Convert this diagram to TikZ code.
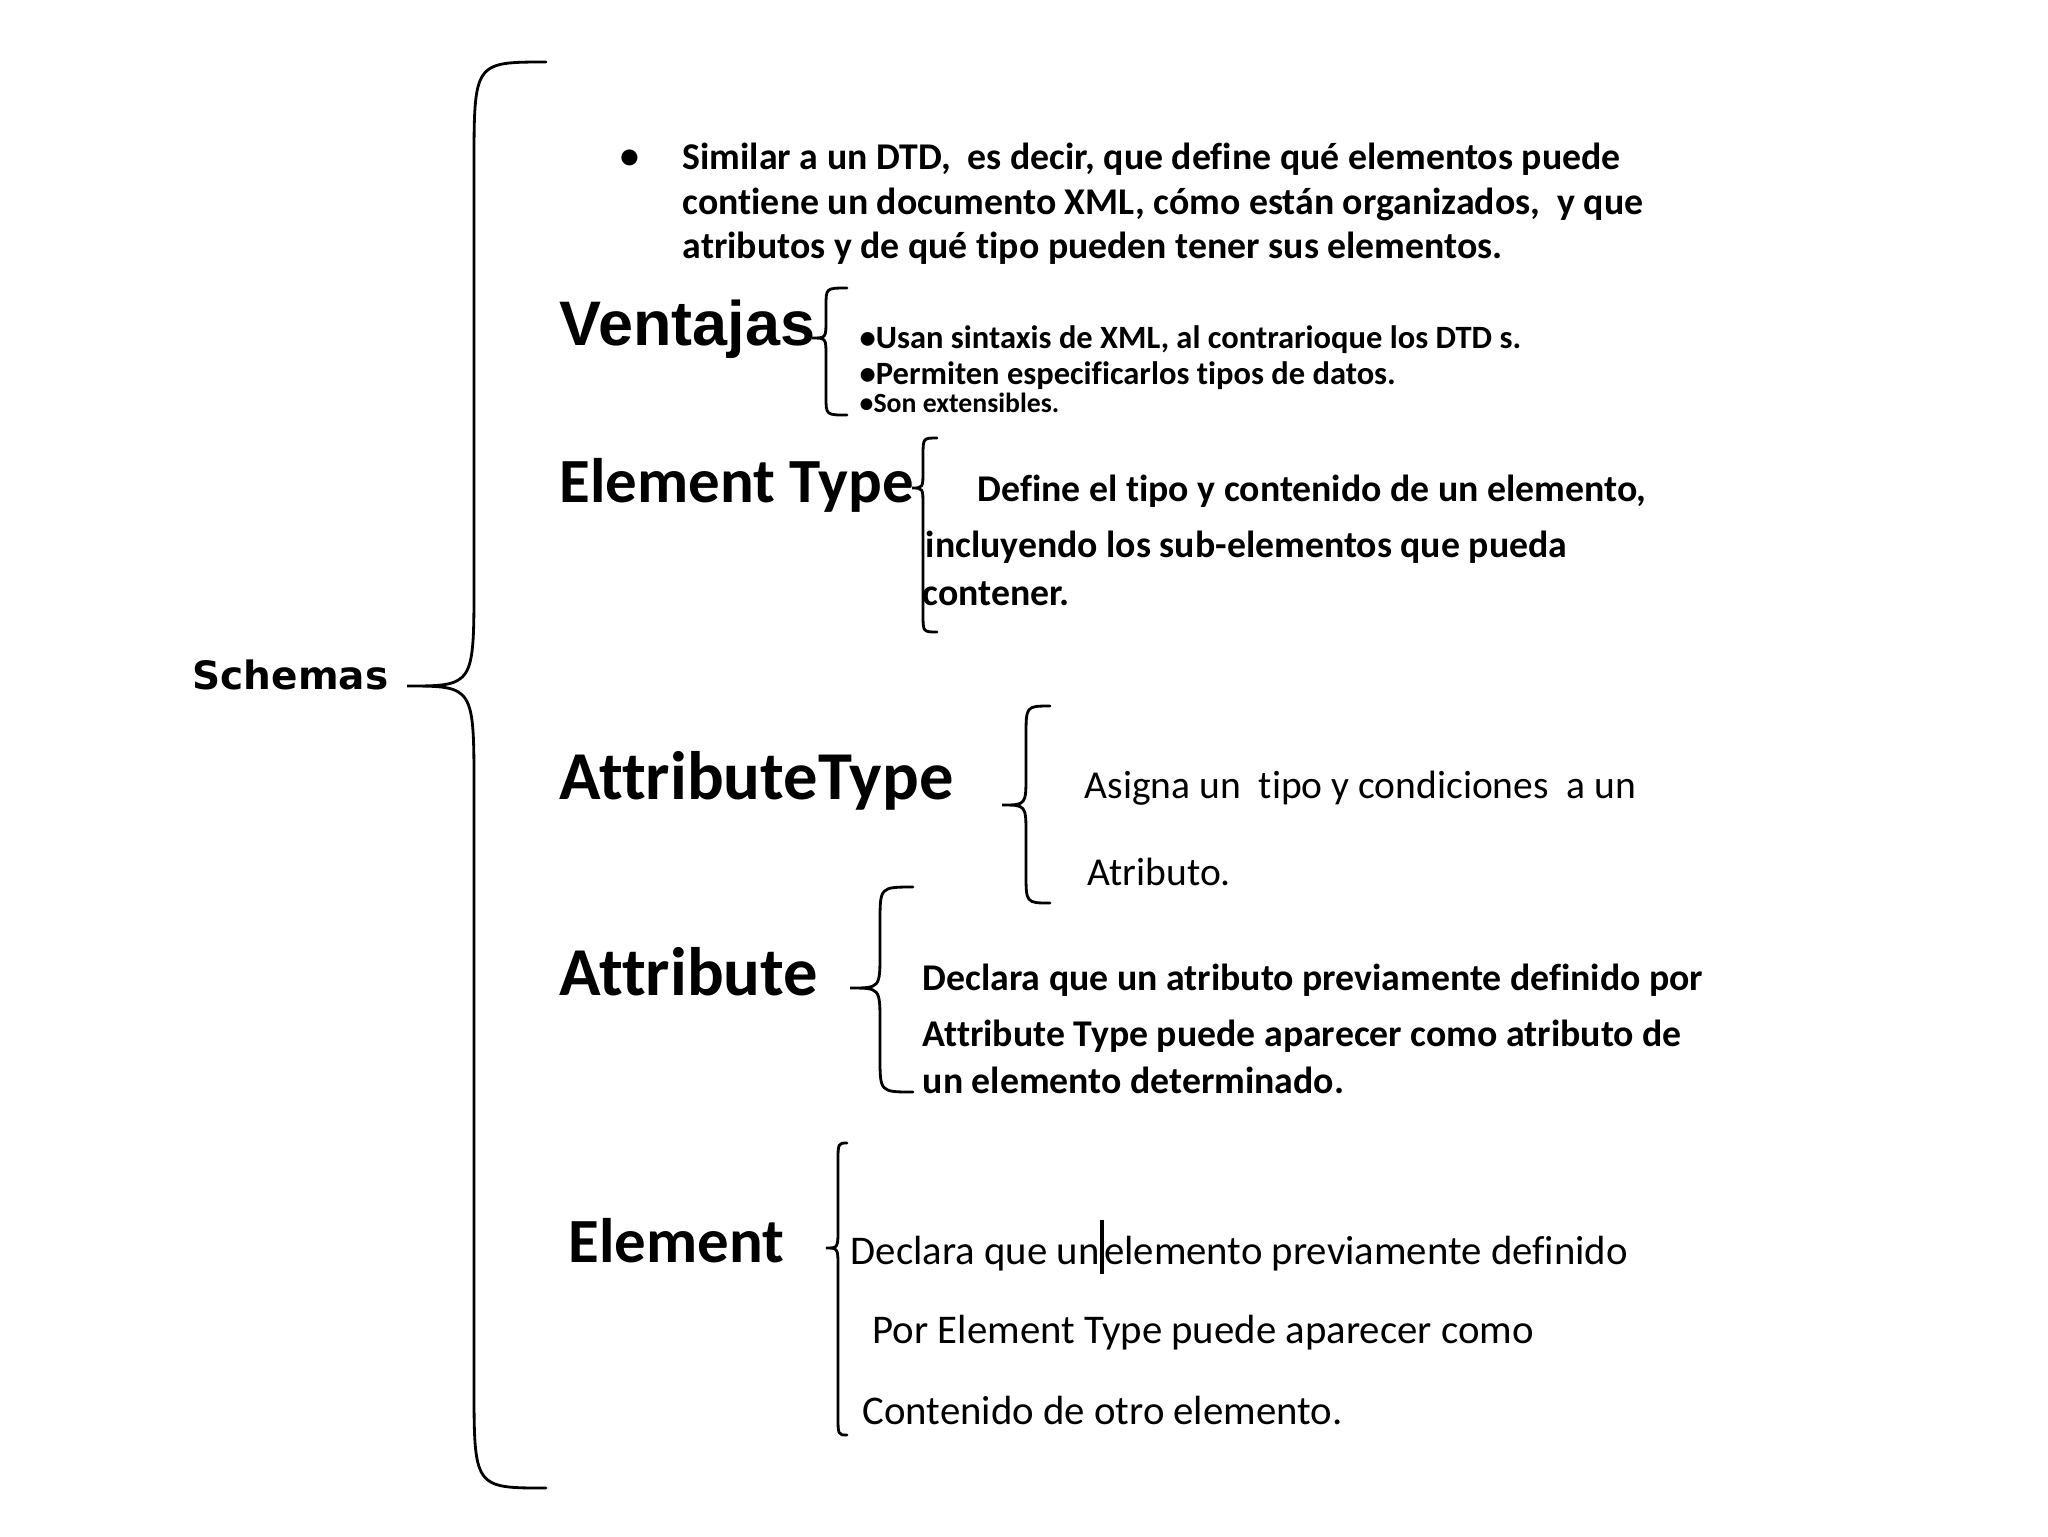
\documentclass[tikz,border=0pt]{standalone}
\usepackage{fontspec}
\setmainfont{Carlito}[Ligatures=CommonOff]
\newfontfamily\arialfont{Liberation Sans}
\newfontfamily\verdanafont{DejaVu Sans}
% curly bracket: end x, line x, tip x, top y, tip y, bottom y, curl
\newcommand{\bracket}[7] {
    \draw[curl] (#1,#4) .. controls (#2,#4) .. (#2,{#4+#7})
        -- (#2,{#5-#7}) .. controls (#2,#5) .. (#3,#5)
        .. controls (#2,#5) .. (#2,{#5+#7})
        -- (#2,{#6-#7}) .. controls (#2,#6) .. (#1,#6);
}
\tikzset{
    curl/.style={line width=0.8pt, line cap=round},
    head/.style={anchor=west, inner sep=0pt, font=\bfseries\fontsize{17.9}{20}\selectfont},
    bighead/.style={head, font=\bfseries\fontsize{19.5}{22}\selectfont},
    txt/.style={anchor=west, inner sep=0pt, font=\bfseries\fontsize{10.75}{12}\selectfont},
    lite/.style={anchor=west, inner sep=0pt, font=\fontsize{11.25}{13}\selectfont},
    small/.style={anchor=west, inner sep=0pt, font=\bfseries\fontsize{9.25}{10}\selectfont}
}

\begin{document}
\begin{tikzpicture}[x=0.1mm, y=-0.1mm]
    \useasboundingbox (0,0) rectangle (2048,1536);
    \node[anchor=west, inner sep=0pt, font=\verdanafont\bfseries\fontsize{11.1}{13}\selectfont] (schemas) at (192,675) {Schemas};
    \bracket{546}{474}{407}{62}{686}{1488}{105}

    % intro
    \node[txt] (dot) at (620,159) {•};
    \node[txt, align=left, font=\bfseries\fontsize{10.75}{12.66}\selectfont] (intro) at (682,204)
        {Similar a un DTD,\ \ es decir, que define qué elementos puede\\
         contiene un documento XML, cómo están organizados,\ \ y que\\
         atributos y de qué tipo pueden tener sus elementos.};

    % ventajas
    \node[anchor=west, inner sep=0pt, font=\arialfont\bfseries\fontsize{17.9}{20}\selectfont] (vent) at (559,329) {Ventajas};
    \bracket{847}{826}{812}{288}{338}{415}{18}
    \node[small] (vent1) at (859,340) {•Usan sintaxis de XML, al contrarioque los DTD s.};
    \node[small] (vent2) at (859,376) {•Permiten especificarlos tipos de datos.};
    \node[small, font=\bfseries\fontsize{7.9}{9}\selectfont] (vent3) at (859,403) {•Son extensibles.};

    % element type
    \node[head] (etype) at (559,485) {Element Type};
    \bracket{937}{923}{912}{438}{488}{632}{18}
    \node[txt] (etype1) at (977,491) {Define el tipo y contenido de un elemento,};
    \node[txt] (etype2) at (925,547) {incluyendo los sub-elementos que pueda};
    \node[txt] (etype3) at (922,594) {contener.};

    % attribute type
    \node[bighead] (atype) at (559,781) {AttributeType};
    \bracket{1050}{1026}{1002}{706}{805}{903}{30}
    \node[lite] (atype1) at (1084,788) {Asigna un\ \ tipo y condiciones\ \ a un};
    \node[lite] (atype2) at (1087,872) {Atributo.};

    % attribute
    \node[bighead] (attr) at (559,972) {Attribute};
    \bracket{913}{880}{850}{887}{988}{1092}{35}
    \node[txt] (attr1) at (922,980) {Declara que un atributo previamente definido por};
    \node[txt] (attr2) at (922,1036) {Attribute Type puede aparecer como atributo de};
    \node[txt] (attr3) at (922,1080) {un elemento determinado.};

    % element
    \node[head] (elem) at (568,1241) {Element};
    \bracket{847}{838}{826}{1143}{1248}{1435}{20}
    \node[lite, font=\fontsize{11.6}{13}\selectfont] (elem1) at (850,1247) {Declara que un\rule[-0.5ex]{1.3pt}{2.8ex}elemento previamente definido};
    \node[lite, font=\fontsize{11.6}{13}\selectfont] (elem2) at (872,1333) {Por Element Type puede aparecer como};
    \node[lite, font=\fontsize{11.6}{13}\selectfont] (elem3) at (862,1410) {Contenido de otro elemento.};
\end{tikzpicture}
\end{document}
